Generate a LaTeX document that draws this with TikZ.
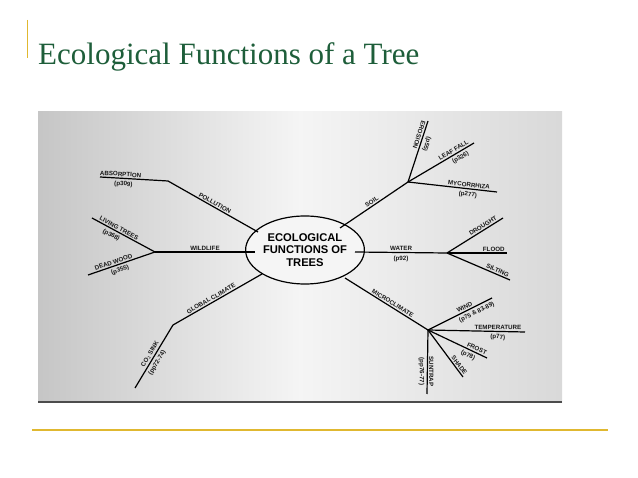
\documentclass[tikz,border=0pt]{standalone}
\usepackage{fontspec}
\setmainfont{Liberation Serif}
\setsansfont{Liberation Sans}
\usetikzlibrary{shapes.geometric}
\definecolor{titlegreen}{HTML}{1E5E3A}
\definecolor{gold}{HTML}{E0B830}
\tikzset{
  br/.style={line width=1.2pt,black},
  lab/.style={font=\sffamily\bfseries\fontsize{6.2}{6.8}\selectfont,inner sep=1.2pt,text=black!90},
  up/.style={lab,sloped,above},
  dn/.style={lab,sloped,below,inner sep=2.5pt},
}
\begin{document}
\begin{tikzpicture}[x=1pt,y=-1pt]
\useasboundingbox (0,0) rectangle (638,478);
\fill[white] (0,0) rectangle (638,478);
% slide decorations
\draw[gold,line width=1pt] (27,20) -- (27,58);
\draw[gold,line width=1.2pt] (32,430) -- (608,430);
\node[anchor=base west,text=titlegreen,font=\fontsize{31}{33}\selectfont,inner sep=0] (title) at (38,65) {Ecological Functions of a Tree};
% photo
\shade[left color=gray!45,right color=gray!30,middle color=gray!8] (38,112) rectangle (562,403);
\fill[black!70] (38,401) rectangle (562,403);
% centre
\node[draw,ellipse,line width=1.2pt,minimum width=98,minimum height=68,fill=gray!8,align=center,inner sep=0,
  font=\sffamily\bfseries\fontsize{11.2}{12.6}\selectfont] (c) at (305,250) {ECOLOGICAL\\FUNCTIONS OF\\TREES};
% coordinates
\coordinate (abs1) at (100,177); \coordinate (abs2) at (168,181);
\coordinate (pol) at (258,232);
\coordinate (wl) at (255,252); \coordinate (wj) at (155,252);
\coordinate (liv) at (92,218); \coordinate (dw) at (88,275);
\coordinate (gc) at (262,274); \coordinate (gk) at (173,325); \coordinate (co) at (135,388);
\coordinate (so) at (340,228); \coordinate (sj) at (408,182);
\coordinate (ero) at (428,121); \coordinate (lf) at (474,143); \coordinate (my) at (497,192);
\coordinate (wa) at (355,252); \coordinate (wj2) at (447,253);
\coordinate (dr) at (503,218); \coordinate (fl) at (507,253); \coordinate (si) at (510,280);
\coordinate (mc) at (345,278); \coordinate (mj) at (428,330);
\coordinate (wi) at (492,298); \coordinate (te) at (525,332); \coordinate (fr) at (487,358);
\coordinate (sh) at (463,377); \coordinate (su) at (427,394);
% branches with labels
\draw[br] (abs1) -- node[up,pos=.3] (tabs) {ABSORPTION} node[dn,pos=.35] (tabsp) {(p309)} (abs2)
  -- node[up,pos=.5] (tpol) {POLLUTION} (pol);
\draw[br] (wj) -- node[up] (twl) {WILDLIFE} (wl);
\draw[br] (liv) -- node[up,pos=.4] (tliv) {LIVING TREES} node[dn,pos=.35] (tlivp) {(p368)} (wj);
\draw[br] (dw) -- node[up,pos=.4] (tdw) {DEAD WOOD} node[dn,pos=.45] (tdwp) {(p355)} (wj);
\draw[br] (gk) -- node[up,pos=.45] (tgc) {GLOBAL CLIMATE} (gc);
\draw[br] (co) -- node[up,pos=.5] (tco) {CO$_\mathbf{2}$ SINK} node[dn,pos=.45] (tcop) {(pp72-74)} (gk);
\draw[br] (so) -- node[up,pos=.5] (tso) {SOIL} (sj);
\draw[br] (sj) -- node[lab,rotate=-108.5,anchor=north,pos=.75] (tero) {EROSION} node[lab,rotate=-108.5,anchor=south,inner sep=2.5pt,pos=.65] (terop) {(p55)} (ero);
\draw[br] (sj) -- node[up,pos=.72] (tlf) {LEAF FALL} node[dn,pos=.75] (tlfp) {(p326)} (lf);
\draw[br] (sj) -- node[up,pos=.68] (tmy) {MYCORRHIZA} node[dn,pos=.68] (tmyp) {(p277)} (my);
\draw[br] (wa) -- node[up,pos=.5] (twa) {WATER} node[dn,pos=.5] (twap) {(p92)} (wj2);
\draw[br] (wj2) -- node[up,pos=.68] (tdr) {DROUGHT} (dr);
\draw[br] (wj2) -- node[up,pos=.78] (tfl) {FLOOD} (fl);
\draw[br] (wj2) -- node[up,pos=.78] (tsi) {SILTING} (si);
\draw[br] (mc) -- node[up,pos=.55] (tmc) {MICROCLIMATE} (mj);
\draw[br] (mj) -- node[up,pos=.6] (twi) {WIND} node[dn,pos=.72] (twip) {(p75 \& 83-89)} (wi);
\draw[br] (mj) -- node[up,pos=.72] (tte) {TEMPERATURE} node[dn,pos=.72] (ttep) {(p77)} (te);
\draw[br] (mj) -- node[up,pos=.8] (tfr) {FROST} node[dn,pos=.72] (tfrp) {(p78)} (fr);
\draw[br] (mj) -- node[up,pos=.8] (tsh) {SHADE} (sh);
\draw[br] (mj) -- node[lab,rotate=-90,anchor=south,pos=.65] (tsu) {SUNTRAP} node[lab,rotate=-90,anchor=north,inner sep=2.5pt,pos=.65] (tsup) {(pp76-77)} (su);
\end{tikzpicture}
\end{document}
